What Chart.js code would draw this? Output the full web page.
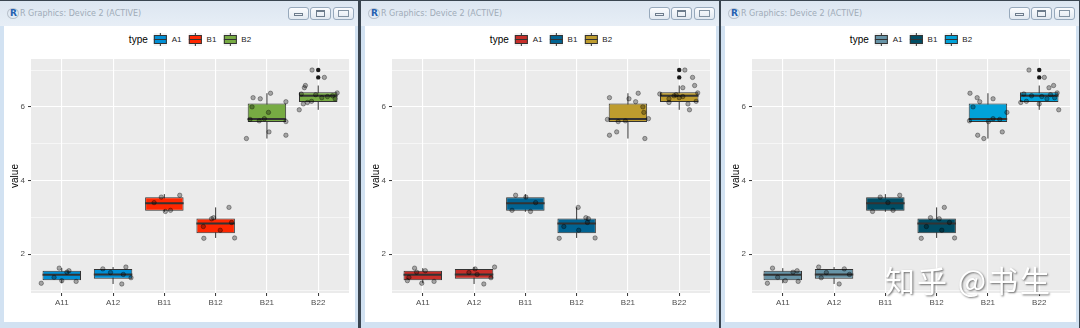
<!DOCTYPE html>
<html><head><meta charset="utf-8">
<script src="https://cdn.jsdelivr.net/npm/chart.js@4/dist/chart.umd.min.js"></script>
<style>
html,body{margin:0;padding:0;}
body{width:1080px;height:328px;background:#3a4550;position:relative;overflow:hidden;font-family:"Liberation Sans",Arial,sans-serif;}
.win{position:absolute;top:1px;width:358px;height:327px;background:#d2e2f2;}
.tbar{position:absolute;left:0;top:0;right:0;height:25px;background:linear-gradient(#dce6f1,#e7eef6);}
.ttl{position:absolute;left:20px;top:8px;font-size:8px;color:#9fabb8;white-space:nowrap;font-family:"DejaVu Sans",sans-serif;}
.ricon{position:absolute;left:7px;top:7px;width:10px;height:9px;border-radius:50%;border:1px solid #b9c2cc;}
.ricon b{position:absolute;left:2px;top:-1px;font-size:9px;color:#2461b0;font-family:"DejaVu Sans",sans-serif;}
.btn{position:absolute;top:6px;width:19px;height:11px;border:1px solid #97a9bc;border-radius:3px;background:linear-gradient(#fbfcfe,#e2e9f1);}
.btn i{position:absolute;display:block;border:1px solid #6d7c8c;}
.content{position:absolute;left:4px;top:25px;width:351px;height:296px;background:#fff;}
canvas{position:absolute;left:3px;top:25px;}
.legend{position:absolute;top:31px;left:190px;transform:translateX(-50%);display:flex;align-items:center;white-space:nowrap;height:15px;}
.lt{font-size:10px;color:#000;margin-right:6px;}
.key{position:relative;width:13px;height:13px;margin-right:5px;background:#f2f2f2;}
.key .wk{position:absolute;left:6px;top:0;width:1px;height:13px;background:#333;}
.key .bx{position:absolute;left:0;top:2px;width:11px;height:7px;border:1px solid #333;}
.key .md{position:absolute;left:0;top:6px;width:13px;height:1px;background:#333;}
.ll{font-size:8px;color:#1a1a1a;margin-right:7px;}
.ll:last-child{margin-right:0;}
.wm{position:absolute;left:885px;top:264px;font-size:30px;line-height:30px;color:#ffffff;font-family:"Noto Sans CJK SC",sans-serif;text-shadow:1px 1px 2px rgba(0,0,0,0.55);white-space:nowrap;letter-spacing:2px;}
</style>
</head><body>
<div class="wm">知乎 @书生</div>
<script>
// ---- data ----
const categories = ['A11','A12','B11','B12','B21','B22'];
const typeOfCategory = ['A1','A1','B1','B1','B2','B2'];
const types = ['A1','B1','B2'];
const yTickLabels = [2,4,6];

const whiskerLow  = [1.21, 1.19, 3.15, 2.44, 5.14, 5.92];
const boxQ1       = [1.29, 1.335, 3.18, 2.57, 5.59, 6.13];
const boxMedian   = [1.44, 1.445, 3.38, 2.83, 5.67, 6.30];
const boxQ3       = [1.55, 1.60, 3.545, 2.965, 6.09, 6.40];
const whiskerHigh = [1.62, 1.65, 3.63, 3.27, 6.37, 6.58];
const outlierCategory = [5, 5];
const outlierValue = [7.0, 6.8];

const valuesA11 = [1.21,1.26,1.28,1.37,1.51,1.55,1.62];
const valuesA12 = [1.19,1.36,1.45,1.50,1.60,1.65];
const valuesB11 = [3.16,3.19,3.40,3.55,3.60];
const valuesB12 = [2.43,2.44,2.65,2.75,2.86,2.96,2.99,3.27];
const valuesB21 = [5.14,5.23,5.32,5.60,5.62,5.66,5.68,5.85,6.00,6.14,6.22,6.25,6.37];
const valuesB22 = [5.92,6.08,6.12,6.15,6.22,6.25,6.28,6.30,6.33,6.35,6.38,6.52,6.58,6.80,7.00];

// horizontal jitter of each point (category units), per window
const jitterWindow1 = [
  [-0.40,0.28,0.00,-0.15,0.10,0.14,-0.05],
  [0.17,0.35,0.20,-0.05,-0.20,0.25],
  [0.02,0.12,-0.20,-0.06,0.30],
  [-0.23,0.37,0.09,-0.24,0.31,-0.08,-0.04,0.26],
  [-0.40,0.37,0.04,0.37,-0.15,-0.33,-0.05,0.03,-0.29,0.37,-0.13,-0.27,0.07],
  [-0.37,-0.29,-0.21,-0.13,0.33,0.07,0.18,0.28,-0.05,-0.33,0.37,-0.27,-0.25,0.12,-0.12]
];
const jitterWindow2 = [
  [-0.02,0.22,-0.30,-0.27,-0.12,0.05,-0.16],
  [0.19,0.33,0.06,-0.10,0.02,0.40],
  [0.10,-0.26,0.20,0.01,-0.19],
  [-0.34,0.36,0.04,-0.25,0.21,0.23,0.18,0.03],
  [0.33,-0.36,-0.22,-0.19,-0.05,-0.40,0.40,0.31,0.29,0.15,0.02,-0.36,0.20],
  [0.20,0.17,-0.20,0.33,-0.20,0.00,0.07,-0.10,-0.06,-0.38,0.36,0.07,0.30,0.26,0.11]
];
const jitterWindow3 = [
  [-0.30,0.30,0.05,-0.10,0.20,0.28,-0.20],
  [0.10,-0.25,0.30,-0.15,0.20,-0.30],
  [-0.25,0.15,0.05,-0.10,0.28],
  [-0.30,0.35,0.10,-0.20,0.25,0.05,-0.12,0.15],
  [-0.08,-0.20,0.28,0.01,-0.36,0.23,0.10,0.37,-0.29,-0.16,0.10,-0.21,-0.35],
  [0.38,0.00,-0.36,-0.25,0.15,0.30,0.05,-0.15,0.22,-0.30,0.35,0.19,0.28,0.10,-0.20]
];

// ---- styles ----
const palettes = [
  ['#008FD5','#FF2700','#77AB43'],
  ['#C72E29','#016392','#BE9C2E'],
  ['#6794A7','#014D64','#01A2D9']
];
const windowLefts = [0, 361, 721];
const jitters = [jitterWindow1, jitterWindow2, jitterWindow3];
const valueLists = [valuesA11, valuesA12, valuesB11, valuesB12, valuesB21, valuesB22];
const FONT = '"Liberation Sans", Arial, sans-serif';

const panelBg = {
  id: 'panelBg',
  beforeDraw(chart) {
    const {ctx, chartArea: a} = chart;
    ctx.save();
    ctx.fillStyle = '#EBEBEB';
    ctx.fillRect(a.left, a.top, a.right - a.left, a.bottom - a.top);
    ctx.restore();
  }
};

function makeWindow(w) {
  const L = windowLefts[w];
  const win = document.createElement('div');
  win.className = 'win';
  win.style.left = L + 'px';
  win.innerHTML =
    '<div class="tbar"><div class="ricon"><b>R</b></div><div class="ttl">R Graphics: Device 2 (ACTIVE)</div>' +
    '<div class="btn" style="left:288px"><i style="left:5px;top:5px;width:7px;height:1px"></i></div>' +
    '<div class="btn" style="left:310px"><i style="left:5px;top:2px;width:7px;height:4px;border-top-width:2px"></i></div>' +
    '<div class="btn" style="left:333px"><i style="left:4px;top:2px;width:9px;height:5px;border-color:#8393a3"></i></div>' +
    '</div><div class="content"></div>';
  const legend = document.createElement('div');
  legend.className = 'legend';
  let html = '<span class="lt">type</span>';
  types.forEach((t, k) => {
    html += '<span class="key"><i class="wk"></i><i class="bx" style="background:' + palettes[w][k] + '"></i><i class="md"></i></span><span class="ll">' + t + '</span>';
  });
  legend.innerHTML = html;
  win.appendChild(legend);
  const cv = document.createElement('canvas');
  cv.width = 352; cv.height = 297;
  cv.style.width = '352px'; cv.style.height = '297px';
  win.appendChild(cv);
  document.body.insertBefore(win, document.querySelector('.wm'));
  buildChart(cv, palettes[w], jitters[w]);
}

function buildChart(canvas, palette, jit) {
  const catColor = typeOfCategory.map(t => palette[types.indexOf(t)]);
  const datasets = [];
  categories.forEach((c, i) => {
    datasets.push({type: 'line', data: [{x: i, y: whiskerLow[i]}, {x: i, y: whiskerHigh[i]}],
      borderColor: '#333333', borderWidth: 1, pointRadius: 0, order: 4});
  });
  datasets.push({type: 'bar', data: categories.map((c, i) => ({x: i, y: [boxQ1[i], boxQ3[i]]})),
    backgroundColor: catColor, borderColor: '#333333', borderWidth: 1, borderSkipped: false,
    categoryPercentage: 0.75, barPercentage: 1, order: 3});
  categories.forEach((c, i) => {
    datasets.push({type: 'line', data: [{x: i - 0.375, y: boxMedian[i]}, {x: i + 0.375, y: boxMedian[i]}],
      borderColor: '#333333', borderWidth: 2, pointRadius: 0, order: 2});
  });
  datasets.push({type: 'scatter', data: outlierCategory.map((c, k) => ({x: c, y: outlierValue[k]})),
    pointRadius: 2.2, backgroundColor: '#1a1a1a', borderWidth: 0, order: 1});
  const pts = [];
  valueLists.forEach((vals, i) => vals.forEach((v, k) => pts.push({x: i + jit[i][k], y: v})));
  datasets.push({type: 'scatter', data: pts, pointRadius: 2.2,
    backgroundColor: 'rgba(0,0,0,0.30)', borderColor: 'rgba(0,0,0,0.42)', borderWidth: 0.8, order: 0});

  new Chart(canvas, {
    type: 'bar',
    data: {datasets},
    plugins: [panelBg],
    options: {
      responsive: false, animation: false, devicePixelRatio: 1,
      plugins: {legend: {display: false}, tooltip: {enabled: false}},
      layout: {padding: {top: 33, right: 6, left: 0, bottom: 0}},
      scales: {
        x: {
          type: 'linear', min: -0.6, max: 5.6, offset: false,
          grid: {offset: false, color: '#ffffff', lineWidth: 1.1, tickColor: '#333333', tickLength: 3, tickWidth: 1},
          border: {display: false},
          ticks: {stepSize: 1, includeBounds: false, autoSkip: false, maxRotation: 0, minRotation: 0, padding: 2,
            color: '#4d4d4d', font: {size: 8, family: FONT},
            callback: v => { const r = Math.round(v); return Math.abs(v - r) < 1e-6 && categories[r] ? categories[r] : ''; }},
          afterFit: s => { s.height = 30; }
        },
        y: {
          type: 'linear', min: 0.945, max: 7.3, beginAtZero: false,
          grid: {color: '#ffffff',
            lineWidth: ctx => (ctx.tick && yTickLabels.includes(Math.round(ctx.tick.value))) ? 1.1 : 0.55,
            tickColor: ctx => (ctx.tick && yTickLabels.includes(Math.round(ctx.tick.value))) ? '#333333' : 'rgba(0,0,0,0)',
            tickLength: 3, tickWidth: 1},
          border: {display: false},
          ticks: {stepSize: 1, includeBounds: false, autoSkip: false, padding: 3,
            color: '#4d4d4d', font: {size: 8, family: FONT},
            callback: v => yTickLabels.includes(Math.round(v)) && Math.abs(v - Math.round(v)) < 1e-6 ? String(Math.round(v)) : ''},
          title: {display: true, text: 'value', color: '#000000', font: {size: 10, family: FONT}, padding: {top: 6, bottom: 0}},
          afterFit: s => { s.width = 28; }
        }
      }
    }
  });
}

[0, 1, 2].forEach(makeWindow);
</script>
</body></html>
